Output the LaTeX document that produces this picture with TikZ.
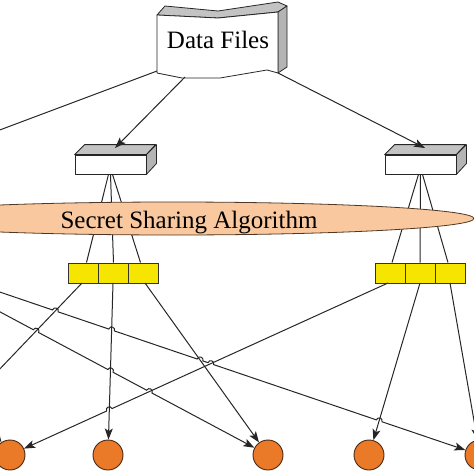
\documentclass[tikz,border=0pt]{standalone}
\usepackage{fontspec}
\setmainfont{Liberation Serif}
\usetikzlibrary{arrows.meta,calc}
\definecolor{peach}{RGB}{249,200,158}
\definecolor{peachedge}{RGB}{80,55,35}
\definecolor{orangec}{RGB}{234,121,40}
\definecolor{orangeedge}{RGB}{70,40,20}
\definecolor{yellowc}{RGB}{245,229,0}
\definecolor{facegray}{RGB}{195,195,195}
\definecolor{sidegray}{RGB}{180,180,180}
\begin{document}
\begin{tikzpicture}[x=1pt,y=-1pt,
  conn/.style={line width=1pt, draw=black!85},
  arr/.style={conn,-{Stealth[length=11pt,width=8pt,inset=2.5pt]}},
  hopl/.style={bend left=90,looseness=1.7},
  hopr/.style={bend right=90,looseness=1.7},
  face/.style={draw=black!85, line width=0.8pt, line join=round},
  front/.style={face, fill=white, minimum width=71pt, minimum height=19pt, inner sep=0pt},
  cell/.style={draw=black!80, line width=0.9pt, fill=yellowc, minimum width=30pt, minimum height=20pt, inner sep=0pt},
  peer/.style={circle, draw=orangeedge, line width=0.9pt, fill=orangec, minimum size=30pt, inner sep=0pt},
  lbl/.style={font=\fontsize{25}{30}\selectfont, anchor=base, inner sep=0pt}]
\useasboundingbox (0,0) rectangle (474,474);
\clip (0,0) rectangle (474,474);

% ---------- Data Files (3D wavy box) ----------
\filldraw[face, fill=facegray] (157,15) -- (165,6) -- (218,11) -- (278,2) -- (287,6) -- (278,12) -- (218,18) -- cycle;
\filldraw[face, fill=sidegray] (278,12) -- (287,6) -- (287,67) -- (278,73) -- cycle;
\filldraw[face, fill=white] (157,15) -- (218,18) -- (278,12) -- (278,73) -- (267,70) -- (220,78) -- (182,78) -- (157,73) -- cycle;
\node[lbl] (df) at (218,48) {Data Files};
\coordinate (dfL) at (157,71);
\coordinate (dfB) at (185,77);
\coordinate (dfR) at (278,73);
\coordinate (offDF) at (-20,137.4);

% ---------- middle boxes ----------
\node[front] (boxL) at (110.5,164.5) {};
\node[front] (boxR) at (420.5,164.5) {};
\foreach \b in {boxL,boxR}{
  \filldraw[face, fill=facegray] (\b.north west) -- ++(10,-10) -- ++(71,0) -- (\b.north east) -- cycle;
  \filldraw[face, fill=sidegray] (\b.north east) -- ++(10,-10) -- ++(0,19) -- (\b.south east) -- cycle;
}
\coordinate (boxLtop) at (115,148);
\coordinate (boxRtop) at (425,148);

\draw[conn] (dfL) -- (offDF);
\draw[arr] (dfB) -- (boxLtop);
\draw[arr] (dfR) -- (boxRtop);

% ---------- yellow share cells ----------
\node[cell] (cL1) at (83.5,273) {};
\node[cell] (cL2) at (113.5,273) {};
\node[cell] (cL3) at (143.5,273) {};
\node[cell] (cR1) at (390,273) {};
\node[cell] (cR2) at (420,273) {};
\node[cell] (cR3) at (450,273) {};

% lines from boxes to cells (behind the algorithm lens)
\draw[conn] ($(boxL.south)+(-2,0)$) -- ($(cL1.north)+(3,0)$);
\draw[conn] (boxL.south) -- (cL2.north);
\draw[conn] ($(boxL.south)+(2,0)$) -- ($(cL3.north)+(-3,0)$);
\draw[conn] ($(boxR.south)+(-2,0)$) -- ($(cR1.north)+(2,0)$);
\draw[conn] (boxR.south) -- (cR2.north);
\draw[conn] ($(boxR.south)+(2,0)$) -- ($(cR3.north)+(-2,0)$);

% ---------- Secret Sharing Algorithm lens ----------
\filldraw[draw=peachedge, line width=0.8pt, fill=peach] (173,218.5) ellipse [x radius=301, y radius=16.5];
\node[lbl] (ssa) at (189,228) {Secret Sharing Algorithm};

% ---------- peers ----------
\coordinate (k1) at (10,455);
\coordinate (k2) at (108,455);
\coordinate (k3) at (268,455);
\coordinate (k4) at (369,455);
\coordinate (k5) at (480,455);
\node[peer] (c1) at (k1) {};
\node[peer] (c2) at (k2) {};
\node[peer] (c3) at (k3) {};
\node[peer] (c4) at (k4) {};
\node[peer] (c5) at (k5) {};

% endpoints
\coordinate (sL1) at (82,283);
\coordinate (sL2) at (113,283);
\coordinate (sL3) at (145,283);
\coordinate (sR1) at (388,283);
\coordinate (sR2) at (420,283);
\coordinate (sR3) at (450,283);
\coordinate (oL1) at (-20,389.7);
\coordinate (sa) at (-20,285.3);
\coordinate (sb) at (-20,301.2);
\coordinate (sx) at (-30,395);

% crossings
\coordinate (xa1) at (intersection of sa--k5 and sL1--oL1);
\coordinate (xa2) at (intersection of sa--k5 and sL2--k2);
\coordinate (xa3) at (intersection of sa--k5 and sL3--k3);
\coordinate (xa4) at (intersection of sa--k5 and sR1--k1);
\coordinate (xa5) at (intersection of sa--k5 and sR2--k4);
\coordinate (xb1) at (intersection of sb--k3 and sL1--oL1);
\coordinate (xb2) at (intersection of sb--k3 and sL2--k2);
\coordinate (xb3) at (intersection of sb--k3 and sR1--k1);
\coordinate (xd1) at (intersection of sR1--k1 and sL2--k2);

% continuous lines
\draw[conn] (sL1) -- (oL1);
\draw[arr] (sL2) -- (c2);
\draw[arr] (sL3) -- (c3);
\draw[arr] (sR2) -- (c4);
\draw[arr] (sR3) -- (c5);
\draw[arr] (sx) -- (c1);

% lines with hops
\draw[arr] (sR1) -- ($(xd1)!3pt!(sR1)$) to[hopr] ($(xd1)!3pt!(k1)$) -- (c1);
\draw[arr] (sb) -- ($(xb1)!3pt!(sb)$) to[hopl] ($(xb1)!3pt!(k3)$)
  -- ($(xb2)!3pt!(sb)$) to[hopl] ($(xb2)!3pt!(k3)$)
  -- ($(xb3)!3pt!(sb)$) to[hopl] ($(xb3)!3pt!(k3)$) -- (c3);
\draw[arr] (sa) -- ($(xa1)!3pt!(sa)$) to[hopl] ($(xa1)!3pt!(k5)$)
  -- ($(xa2)!3pt!(sa)$) to[hopl] ($(xa2)!3pt!(k5)$)
  -- ($(xa3)!3pt!(sa)$) to[hopl] ($(xa3)!3pt!(k5)$)
  -- ($(xa4)!3pt!(sa)$) to[hopl] ($(xa4)!3pt!(k5)$)
  -- ($(xa5)!3pt!(sa)$) to[hopl] ($(xa5)!3pt!(k5)$) -- (c5);
\end{tikzpicture}
\end{document}
